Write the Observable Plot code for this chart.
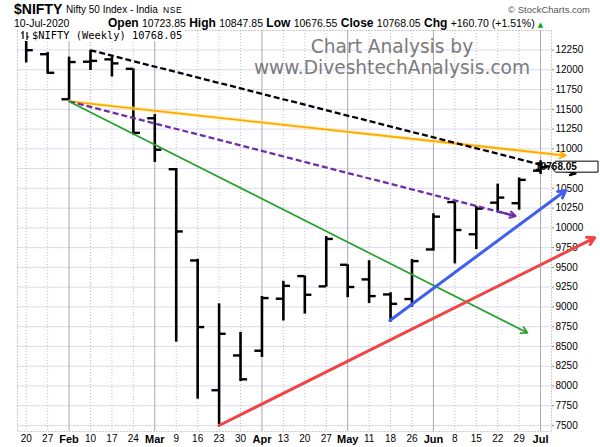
<!DOCTYPE html>
<html>
<head>
<meta charset="utf-8">
<script src="https://cdn.jsdelivr.net/npm/d3@7"></script>
<script src="https://cdn.jsdelivr.net/npm/@observablehq/plot@0.6"></script>
<style>
html,body{margin:0;padding:0;background:#fff;}
#wrap{position:relative;width:600px;height:447px;overflow:hidden;font-family:"Liberation Sans",Arial,sans-serif;color:#000;}
#chart{position:absolute;left:0;top:0;}
.t{position:absolute;white-space:nowrap;line-height:1;}
#ohlc b{font-size:12px;}
#ohlc span{font-size:10.5px;}
.wm{font-family:"DejaVu Sans",sans-serif;font-size:18.6px;color:#7b7b7b;transform:translateX(-50%);}
</style>
</head>
<body>
<div id="wrap">
<div id="chart"></div>
<div class="t" style="left:14px;top:1.5px;font-size:14px;font-weight:bold;">$NIFTY</div>
<div class="t" style="left:66px;top:4.5px;font-size:10px;">Nifty 50 Index - India</div>
<div class="t" style="left:163px;top:5.8px;font-size:8.5px;letter-spacing:0.6px;">NSE</div>
<div class="t" style="right:10px;top:5px;font-size:9.5px;color:#555;">© StockCharts.com</div>
<div class="t" id="date" style="left:14px;top:18px;font-size:10.5px;">10-Jul-2020</div>
<div class="t" id="ohlc" style="left:108px;top:16.8px;font-size:12px;line-height:12px;"></div>
<div class="t" id="legend" style="left:18px;top:30px;width:167px;height:11px;background:#fff;"></div>
<div class="t wm" style="left:392px;top:37.6px;">Chart Analysis by</div>
<div class="t wm" style="left:392px;top:59.3px;">www.DiveshtechAnalysis.com</div>
</div>
<script>
// ---- data ----
const weekLabels = ["20","27","Feb","10","17","24","Mar","9","16","23","30","Apr","13","20","27","May","11","18","26","Jun","8","15","22","29","Jul"];
const opens  = [12430,12197,11627,12102,12132,12012,11387,10742,9588,7946,8386,8446,9104,9390,9260,9533,9348,9158,9100,9727,10326,9919,10319,10312,10723.85];
const highs  = [12430,12217,12160,12247,12160,12012,11433,10752,9602,9039,8678,9132,9324,9391,9889,9533,9585,9179,9599,10178,10329,10272,10553,10631,10847.85];
const lows   = [12087,11945,11614,11991,11908,11175,10827,8555,7833,7511,8056,8361,8822,8909,9250,9117,9044,8807,8997,9707,9544,9726,10210,10224,10676.55];
const closes = [12248,11962,12098,12113,12081,11202,10989,9955,8745,8660,8084,9112,9267,9154,9860,9252,9137,9039,9580,10142,9973,10244,10383,10607.35,10768.05];
const yTickValues = d3.range(7500, 12251, 250);

// trend lines (week index, price)
const trendIds        = ["black","orange","purple","green","blue","red"];
const trendStartWeek  = [3, 2, 2, 2, 16.97, 9];
const trendStartPrice = [12247, 11600, 11600, 11600, 8828, 7500];
const trendEndWeek    = [25.63, 25.17, 22.83, 23.38, 25.17, 26.52];
const trendEndPrice   = [10688, 10915, 10150, 8673, 10473, 9874];

// ---- tables ----
const bars = weekLabels.map((w, i) => ({i, w, o: opens[i], h: highs[i], l: lows[i], c: closes[i]}));
const trends = trendIds.map((id, k) => ({id, i1: trendStartWeek[k], v1: trendStartPrice[k], i2: trendEndWeek[k], v2: trendEndPrice[k]}));
const T = id => trends.filter(d => d.id === id);
const tail = (arr, t) => arr.map(d => ({...d, i1: d.i1 + (d.i2 - d.i1) * t, v1: d.v1 + (d.v2 - d.v1) * t}));
const isMonth = w => isNaN(+w);
const weekIdx = bars.filter(d => !isMonth(d.w)).map(d => d.i);
const monthIdx = bars.filter(d => isMonth(d.w)).map(d => d.i);
const last = bars.length - 1;
const lastClose = closes[last];
const link = {x1: "i1", y1: "v1", x2: "i2", y2: "v2"};

const chart = Plot.plot({
  width: 600, height: 447,
  marginTop: 30, marginBottom: 16, marginLeft: 17, marginRight: 49,
  x: {type: "linear", domain: [-0.406, 24.51]},
  y: {domain: [7424, 12497]},
  style: {fontFamily: "Liberation Sans, Arial, sans-serif", fontSize: "10px", background: "transparent", overflow: "visible"},
  marks: [
    Plot.gridY(yTickValues, {stroke: "#dcd9f3", strokeOpacity: 1, strokeWidth: 1}),
    Plot.gridX(weekIdx, {stroke: "#c0c0c0", strokeOpacity: 1, strokeDasharray: "1,2"}),
    Plot.gridX(monthIdx, {stroke: "#a8a8a8", strokeOpacity: 1}),
    Plot.frame({stroke: "#9a9a9a", strokeDasharray: "1,2"}),
    Plot.axisY(yTickValues.filter(v => Math.abs(v - lastClose) > 120), {anchor: "right", tickFormat: d3.format("d"), tickSize: 2, tickPadding: 2, fontSize: 10, stroke: "#888", fill: "#000", label: null}),
    Plot.axisX(weekIdx, {tickFormat: i => weekLabels[i], tickSize: 0, tickPadding: 3.5, fontSize: 10, fill: "#000", label: null}),
    Plot.axisX(monthIdx, {tickFormat: i => weekLabels[i], tickSize: 0, tickPadding: 3.5, fontSize: 11, fontWeight: "bold", fill: "#000", label: null}),
    // OHLC bars
    Plot.ruleX(bars, {x: "i", y1: "l", y2: "h", stroke: "#000", strokeWidth: 2.6}),
    Plot.ruleY(bars, {y: "o", x1: d => d.i - 0.33, x2: "i", stroke: "#000", strokeWidth: 2.4}),
    Plot.ruleY(bars, {y: "c", x1: "i", x2: d => d.i + 0.33, stroke: "#000", strokeWidth: 2.4}),
    // trend lines
    Plot.link(T("orange"), {...link, stroke: "#ffe98f", strokeWidth: 4, strokeOpacity: 0.6}),
    Plot.arrow(T("orange"), {...link, stroke: "#ffa800", strokeWidth: 1.8, headLength: 5.5}),
    Plot.link(T("black"), {...link, stroke: "#000", strokeWidth: 2.3, strokeDasharray: "6,3"}),
    Plot.arrow(tail(T("black"), 0.965), {...link, stroke: "#000", strokeWidth: 2.2, headLength: 4.2}),
    Plot.link(T("purple"), {...link, stroke: "#6f2da8", strokeWidth: 2.3, strokeDasharray: "6,3"}),
    Plot.arrow(tail(T("purple"), 0.96), {...link, stroke: "#6f2da8", strokeWidth: 2.2, headLength: 4.2}),
    Plot.arrow(T("green"), {...link, stroke: "#22a32a", strokeWidth: 1.7, headLength: 6}),
    Plot.arrow(T("blue"), {...link, stroke: "#3f5fee", strokeWidth: 3, headLength: 4}),
    Plot.arrow(T("red"), {...link, stroke: "#f04545", strokeWidth: 3, headLength: 4})
  ]
});
document.getElementById("chart").append(chart);

// price label on the right axis, positioned with Plot's y scale
const yc = chart.scale("y").apply(lastClose);
const xr = 600 - 49;
const g = d3.select(chart).append("g");
g.append("path")
  .attr("d", `M${xr},${yc} L${xr + 4.5},${yc - 5.5} H598 V${yc + 5.5} H${xr + 4.5} Z`)
  .attr("fill", "#fff").attr("stroke", "#000").attr("stroke-width", 1);
g.append("text").attr("x", xr + 5).attr("y", yc).attr("dy", "0.36em")
  .attr("font-weight", "bold").attr("font-size", 10).attr("fill", "#000")
  .text(d3.format(".2f")(lastClose));

// header values from the last bar
const f2 = d3.format(".2f");
const chg = closes[last] - closes[last - 1];
const pct = chg / closes[last - 1] * 100;
document.getElementById("ohlc").innerHTML =
  `<b>Open</b> <span>${f2(opens[last])}</span> <b>High</b> <span>${f2(highs[last])}</span> ` +
  `<b>Low</b> <span>${f2(lows[last])}</span> <b>Close</b> <span>${f2(closes[last])}</span> ` +
  `<b>Chg</b> <span>${chg >= 0 ? "+" : ""}${f2(chg)} (${pct >= 0 ? "+" : ""}${f2(pct)}%)</span>` +
  `<span style="font-family:'DejaVu Sans';font-size:7px;color:#0a0;margin-left:3px;">▲</span>`;

// legend line inside the plot
document.getElementById("legend").innerHTML =
  `<svg width="12" height="11" style="position:absolute;left:2px;top:0px"><path d="M3,1V9M1,3H3M7,2V10M7,7H9" stroke="#000" stroke-width="1.2" fill="none"/></svg>` +
  `<span style="position:absolute;left:14px;top:-0.3px;font-family:'DejaVu Sans Mono',monospace;font-size:10.4px;line-height:1;">$NIFTY (Weekly) ${f2(lastClose)}</span>`;
</script>
</body>
</html>
